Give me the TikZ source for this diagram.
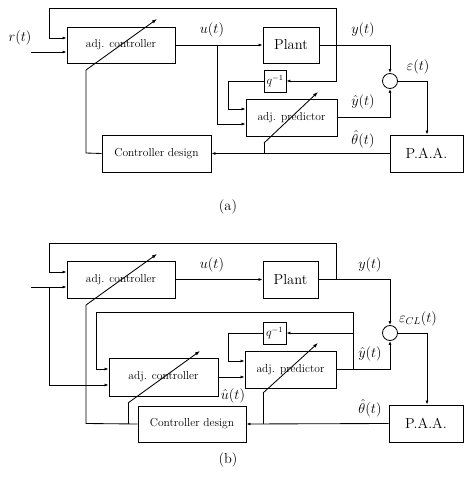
\documentclass[tikz,border=0pt]{standalone}
\usepackage{fontspec}
\usetikzlibrary{arrows.meta,calc}
\tikzset{
  blk/.style={draw,line width=0.85pt,inner sep=0pt,font=\fontsize{11.5}{13}\selectfont},
  bigblk/.style={draw,line width=0.85pt,inner sep=0pt,font=\fontsize{14.5}{16}\selectfont},
  sig/.style={inner sep=0pt,font=\fontsize{14.4}{16}\selectfont},
  wire/.style={line width=0.85pt},
  arr/.style={line width=0.85pt,-{Latex[length=4pt,width=3pt]}},
  adjarr/.style={line width=0.85pt,-{Latex[length=5pt,width=3.5pt]}},
  summ/.style={draw,circle,line width=0.85pt,minimum size=15pt,inner sep=0pt},
}
\begin{document}
\begin{tikzpicture}[x=1pt,y=-1pt]
\useasboundingbox (0,0) rectangle (474,477);
% ================= (a) =================
\node[blk,minimum width=108pt,minimum height=36pt] (ctrlA) at (121,45) {adj. controller};
\node[bigblk,minimum width=56pt,minimum height=36pt] (plantA) at (291,45) {Plant};
\node[blk,minimum width=22pt,minimum height=22pt] (qA) at (275,81) {$q^{-1}$};
\node[blk,minimum width=91pt,minimum height=37pt] (predA) at (291.5,117.5) {adj. predictor};
\node[blk,minimum width=109pt,minimum height=37pt] (designA) at (156.5,153.5) {Controller design};
\node[bigblk,minimum width=73pt,minimum height=37pt] (paaA) at (426.5,153.5) {P.A.A.};
\node[summ] (sumA) at (390,81) {};
% labels
\node[sig] (rA) at (20,38) {$r(t)$};
\node[sig] (uA) at (212,30) {$u(t)$};
\node[sig] (yA) at (363,30) {$y(t)$};
\node[sig] (eA) at (418,67) {$\varepsilon(t)$};
\node[sig] (yhA) at (363,102) {$\hat{y}(t)$};
\node[sig] (thA) at (363,139) {$\hat{\theta}(t)$};
% coordinates
\coordinate (inA) at (31,52);
\coordinate (fbA) at (336,45);
\coordinate (brA) at (217,45);
\coordinate (tpA) at (264,153);
\coordinate (dgA) at (86,153);
% wires
\draw[arr] (inA) -- (inA -| ctrlA.west);
\draw[arr] (fbA) -- (336,8) -- (49,8) -- (49,38) -- (ctrlA.west |- 0,38);
\draw[arr] (fbA) -- (336,81) -- (qA.east);
\draw[arr] (ctrlA.east) -- (plantA.west);
\draw[arr] (brA) -- (217,124) -- (predA.west |- 0,124);
\draw[arr] (qA.west) -- (228,81) -- (228,109) -- (predA.west |- 0,109);
\draw[arr] (plantA.east) -- (sumA.north |- plantA.east) -- (sumA.north);
\draw[arr] (predA.east) -- (sumA.south |- predA.east) -- (sumA.south);
\draw[arr] (sumA.east) -- (427,81) -- (paaA.north -| 427,0);
\draw[arr] (paaA.west) -- (designA.east);
\draw[wire] (tpA) -- (264,143);
\draw[adjarr] (264,143) -- (318,92);
\draw[wire] (designA.west) -- (dgA) -- (86,70);
\draw[adjarr] (86,70) -- (157,19);
\node[sig] (capA) at (228,207) {(a)};
% ================= (b) =================
\node[blk,minimum width=108pt,minimum height=37pt] (ctrlB1) at (121,279.5) {adj. controller};
\node[bigblk,minimum width=55pt,minimum height=37pt] (plantB) at (290.5,279.5) {Plant};
\node[blk,minimum width=109pt,minimum height=38pt] (ctrlB2) at (163.5,377) {adj. controller};
\node[blk,minimum width=23pt,minimum height=22pt] (qB) at (274.5,333) {$q^{-1}$};
\node[blk,minimum width=91pt,minimum height=37pt] (predB) at (290.5,369.5) {adj. predictor};
\node[blk,minimum width=108pt,minimum height=36pt] (designB) at (192,424) {Controller design};
\node[bigblk,minimum width=74pt,minimum height=37pt] (paaB) at (426,423.5) {P.A.A.};
\node[summ] (sumB) at (390,333) {};
% labels
\node[sig] (uB) at (212,265) {$u(t)$};
\node[sig] (yB) at (370,265) {$y(t)$};
\node[sig] (eB) at (418,319) {$\varepsilon_{CL}(t)$};
\node[sig] (yhB) at (370,354) {$\hat{y}(t)$};
\node[sig] (uhB) at (233,396) {$\hat{u}(t)$};
\node[sig] (thB) at (370,408) {$\hat{\theta}(t)$};
% coordinates
\coordinate (inB) at (31,287);
\coordinate (brB) at (49,287);
\coordinate (fbB) at (336,279.5);
\coordinate (jB) at (353,369.5);
\coordinate (jqB) at (353,333);
\coordinate (tpB) at (263,423.5);
\coordinate (dgB) at (86,423.5);
\coordinate (dg2B) at (128,423.5);
% wires
\draw[arr] (inB) -- (inB -| ctrlB1.west);
\draw[arr] (brB) -- (49,385) -- (ctrlB2.west |- 0,385);
\draw[arr] (fbB) -- (336,243) -- (49,243) -- (49,272) -- (ctrlB1.west |- 0,272);
\draw[arr] (ctrlB1.east) -- (plantB.west);
\draw[arr] (plantB.east) -- (sumB.north |- plantB.east) -- (sumB.north);
\draw[arr] (predB.east) -- (sumB.south |- predB.east) -- (sumB.south);
\draw[arr] (jB) -- (353,312) -- (96,312) -- (96,369) -- (ctrlB2.west |- 0,369);
\draw[arr] (jqB) -- (qB.east);
\draw[arr] (qB.west) -- (228,333) -- (228,361) -- (predB.west |- 0,361);
\draw[arr] (ctrlB2.east) -- (predB.west |- ctrlB2.east);
\draw[arr] (sumB.east) -- (427,333) -- (paaB.north -| 427,0);
\draw[arr] (paaB.west) -- (designB.east);
\draw[wire] (tpB) -- (263,393);
\draw[adjarr] (263,393) -- (318,343);
\draw[wire] (designB.west) -- (dgB) -- (86,305);
\draw[adjarr] (86,305) -- (157,254);
\draw[wire] (dg2B) -- (128,403);
\draw[adjarr] (128,403) -- (200,351);
\node[sig] (capB) at (228,460) {(b)};
\end{tikzpicture}
\end{document}
